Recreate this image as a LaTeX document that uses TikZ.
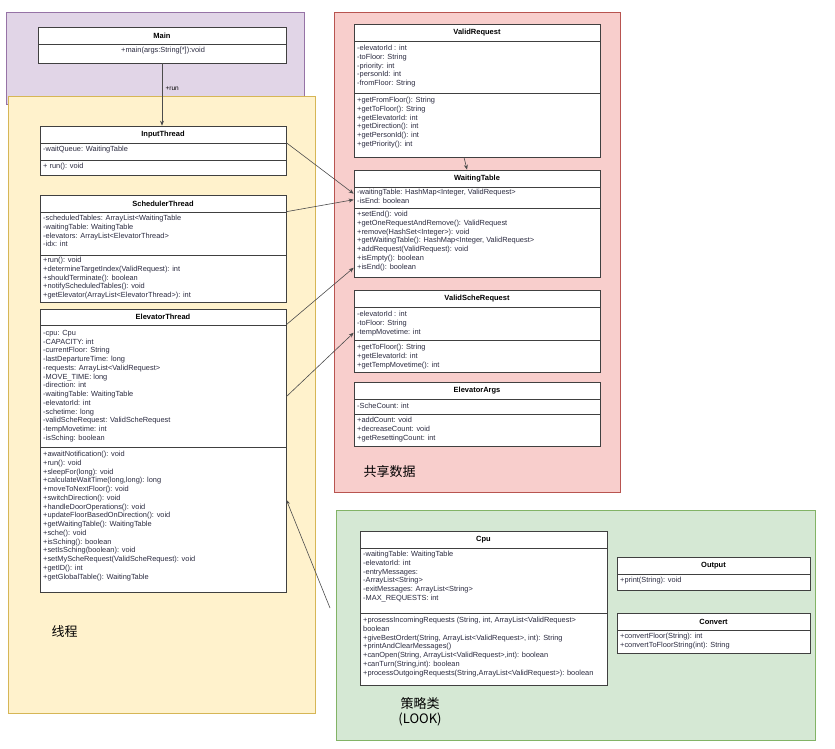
\documentclass[tikz,border=0pt]{standalone}
\usepackage{fontspec}
\setmainfont{Liberation Sans}
\newfontfamily\cjk{Noto Sans CJK SC}
\usetikzlibrary{arrows.meta,fit}
\definecolor{txt}{HTML}{2B2B40}
\definecolor{pf}{HTML}{E1D5E7}\definecolor{ps}{HTML}{9673A6}
\definecolor{yf}{HTML}{FFF2CC}\definecolor{ys}{HTML}{D6B656}
\definecolor{rf}{HTML}{F8CECC}\definecolor{rs}{HTML}{B85450}
\definecolor{gf}{HTML}{D5E8D4}\definecolor{gs}{HTML}{82B366}
\tikzset{
  clsbox/.style={draw=black!75,fill=white,inner sep=0pt,line width=0.6pt},
  sec/.style={draw=black!75,line width=0.6pt},
  memb/.style={anchor=north west,align=left,inner sep=0pt,text=txt,font=\fontsize{7.4}{8.75}\selectfont},
  ttl/.style={font=\bfseries\fontsize{7.5}{8}\selectfont},
  arr/.style={draw=black!70,line width=0.6pt,-{Stealth[length=5pt,width=4pt]}},
  grp/.style={line width=0.8pt,inner sep=0pt},
  big/.style={font=\cjk\fontsize{13}{15}\selectfont}
}
% name, x1,y1,x2,y2, header bottom, title
\newcommand\clsbox[7]{%
  \node[clsbox,fit={(#2,#3)(#4,#5)}] (#1) {};
  \draw[sec] (#2,#6) -- (#4,#6);
  \node[ttl] at ({(#2+#4)/2},{(#3+#6)/2}) {#7};}
\newcommand\mtxt[3]{\node[memb] at (#1+3,#2) {#3};}
\newcommand\hsep[3]{\draw[sec] (#1,#3) -- (#2,#3);}
\begin{document}
\begin{tikzpicture}[x=1pt,y=-1pt]
\useasboundingbox (0,0) rectangle (835,749);
\node[grp,draw=ps,fill=pf,fit={(6,12)(304,104)}] (gmain) {};
\node[grp,draw=ys,fill=yf,fit={(8,96)(315,713)}] (gthr) {};
\node[grp,draw=rs,fill=rf,fit={(334,12)(620,492)}] (gshr) {};
\node[grp,draw=gs,fill=gf,fit={(336,510)(815,740)}] (gstr) {};
\node[big,anchor=west] (l1) at (48,632) {线程};
\node[big,anchor=west] (l2) at (360,472) {共享数据};
\node[big,align=center] (l3) at (420,712) {策略类\\(LOOK)};
% Main
\clsbox{main}{38}{27}{286}{63}{44}{Main}
\mtxt{38}{47}{\hspace*{80pt}+main(args:String[*]):void}
% InputThread
\clsbox{inp}{40}{126}{286}{175}{143}{InputThread}
\mtxt{40}{146}{-waitQueue: WaitingTable}
\hsep{40}{286}{160}
\mtxt{40}{163}{+ run(): void}
% SchedulerThread
\clsbox{sch}{40}{195}{286}{302}{212}{SchedulerThread}
\mtxt{40}{215}{-scheduledTables: ArrayList<WaitingTable\\-waitingTable: WaitingTable\\-elevators: ArrayList<ElevatorThread>\\-idx: int}
\hsep{40}{286}{255}
\mtxt{40}{257}{+run(): void\\+determineTargetIndex(ValidRequest): int\\+shouldTerminate(): boolean\\+notifyScheduledTables(): void\\+getElevator(ArrayList<ElevatorThread>): int}
% ElevatorThread
\clsbox{elev}{40}{309}{286}{592}{325}{ElevatorThread}
\mtxt{40}{330}{-cpu: Cpu\\-CAPACITY: int\\-currentFloor: String\\-lastDepartureTime: long\\-requests: ArrayList<ValidRequest>\\-MOVE\_TIME: long\\-direction: int\\-waitingTable: WaitingTable\\-elevatorId: int\\-schetime: long\\-validScheRequest: ValidScheRequest\\-tempMovetime: int\\-isSching: boolean}
\hsep{40}{286}{447}
\mtxt{40}{451}{+awaitNotification(): void\\+run(): void\\+sleepFor(long): void\\+calculateWaitTime(long,long): long\\+moveToNextFloor(): void\\+switchDirection(): void\\+handleDoorOperations(): void\\+updateFloorBasedOnDirection(): void\\+getWaitingTable(): WaitingTable\\+sche(): void\\+isSching(): boolean\\+setIsSching(boolean): void\\+setMyScheRequest(ValidScheRequest): void\\+getID(): int\\+getGlobalTable(): WaitingTable}
% ValidRequest
\clsbox{vr}{354}{24}{600}{157}{41}{ValidRequest}
\mtxt{354}{45}{-elevatorId : int\\-toFloor: String\\-priority: int\\-personId: int\\-fromFloor: String}
\hsep{354}{600}{93}
\mtxt{354}{97}{+getFromFloor(): String\\+getToFloor(): String\\+getElevatorId: int\\+getDirection(): int\\+getPersonId(): int\\+getPriority(): int}
% WaitingTable
\clsbox{wt}{354}{170}{600}{277}{187}{WaitingTable}
\mtxt{354}{189}{-waitingTable: HashMap<Integer, ValidRequest>\\-isEnd: boolean}
\hsep{354}{600}{208}
\mtxt{354}{211}{+setEnd(): void\\+getOneRequestAndRemove(): ValidRequest\\+remove(HashSet<Integer>): void\\+getWaitingTable(): HashMap<Integer, ValidRequest>\\+addRequest(ValidRequest): void\\+isEmpty(): boolean\\+isEnd(): boolean}
% ValidScheRequest
\clsbox{vsr}{354}{290}{600}{372}{307}{ValidScheRequest}
\mtxt{354}{311}{-elevatorId : int\\-toFloor: String\\-tempMovetime: int}
\hsep{354}{600}{340}
\mtxt{354}{344}{+getToFloor(): String\\+getElevatorId: int\\+getTempMovetime(): int}
% ElevatorArgs
\clsbox{ea}{354}{382}{600}{446}{399}{ElevatorArgs}
\mtxt{354}{403}{-ScheCount: int}
\hsep{354}{600}{414}
\mtxt{354}{417}{+addCount: void\\+decreaseCount: void\\+getResettingCount: int}
% Cpu
\clsbox{cpu}{360}{531}{607}{685}{548}{Cpu}
\mtxt{360}{551}{-waitingTable: WaitingTable\\-elevatorId: int\\-entryMessages:\\-ArrayList<String>\\-exitMessages: ArrayList<String>\\-MAX\_REQUESTS: int}
\hsep{360}{607}{613}
\mtxt{360}{617}{+prosessIncomingRequests (String, int, ArrayList<ValidRequest>\\boolean\\+giveBestOrdert(String, ArrayList<ValidRequest>, int): String\\+printAndClearMessages()\\+canOpen(String, ArrayList<ValidRequest>,int): boolean\\+canTurn(String,int): boolean\\+processOutgoingRequests(String,ArrayList<ValidRequest>): boolean}
% Output
\clsbox{out}{617}{557}{810}{590}{574}{Output}
\mtxt{617}{577}{+print(String): void}
% Convert
\clsbox{conv}{617}{613}{810}{653}{630}{Convert}
\mtxt{617}{633}{+convertFloor(String): int\\+convertToFloorString(int): String}
% connectors
\draw[arr] (main.south -| 162,0) -- node[right,font=\fontsize{6.5}{7}\selectfont,pos=0.4] {+run} (inp.north -| 162,0);
\draw[arr] ([yshift=-17pt]inp.north east) -- ([yshift=-24pt]wt.north west);
\draw[arr] ([yshift=-17pt]sch.north east) -- ([yshift=-30pt]wt.north west);
\draw[arr] ([yshift=-16pt]elev.north east) -- ([yshift=-98pt]wt.north west);
\draw[arr] ([yshift=-88pt]elev.north east) -- ([yshift=-43pt]vsr.north west);
\coordinate (cpuend) at (330,608);
\draw[arr] (cpuend) -- ([yshift=-191pt]elev.north east);
\draw[arr] (vr.south -| 464,0) -- (wt.north -| 467,0);
\end{tikzpicture}
\end{document}
